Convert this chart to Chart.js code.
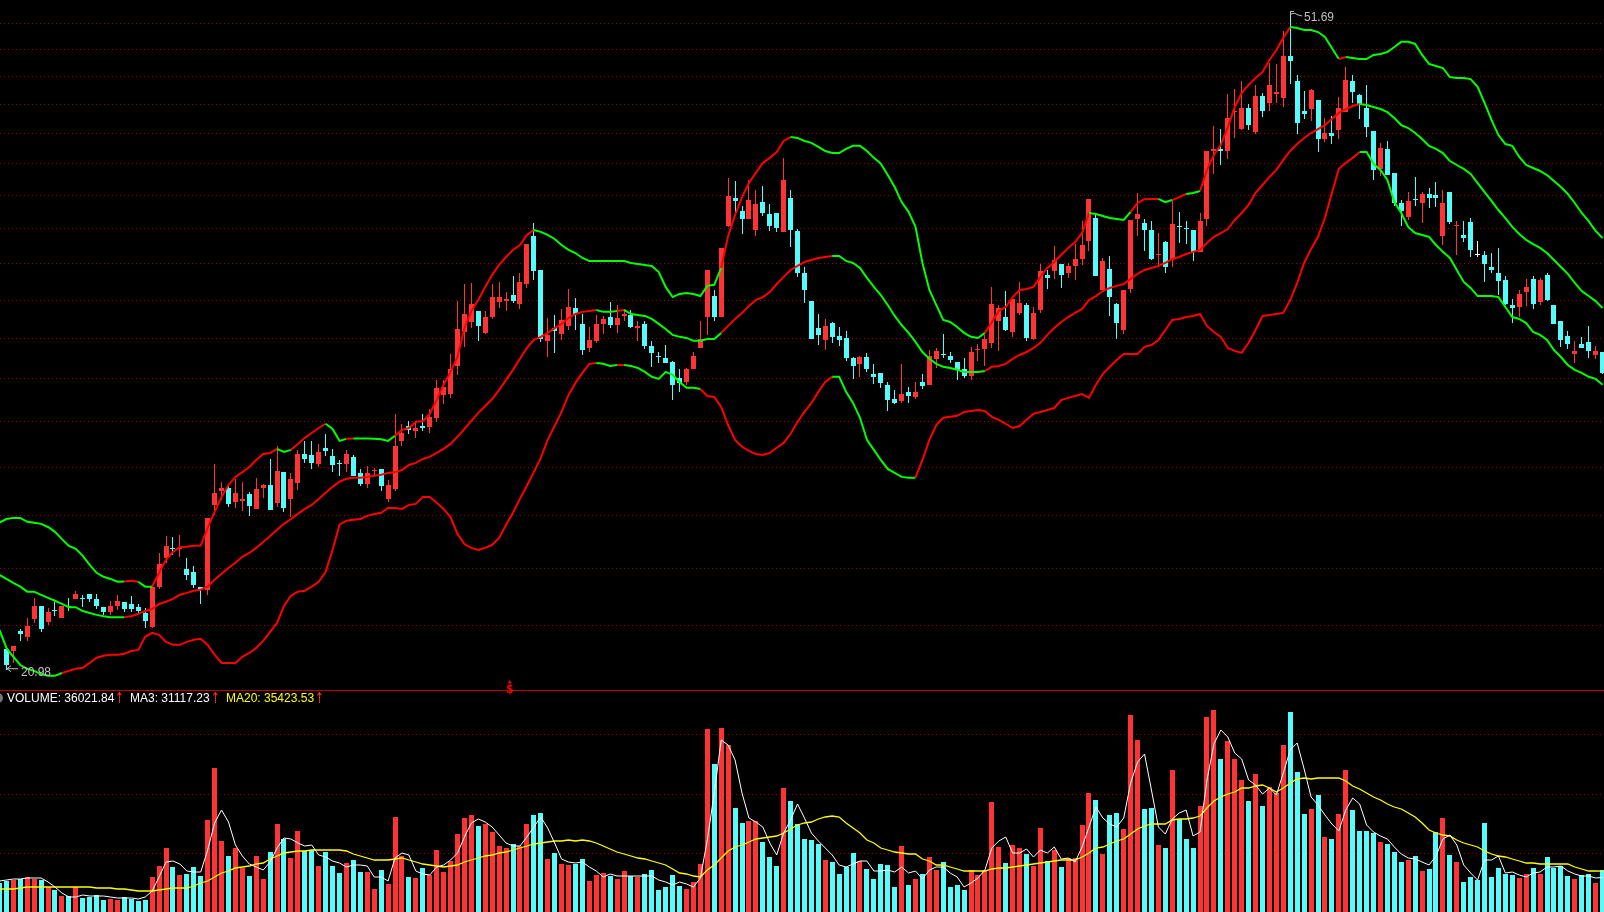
<!DOCTYPE html>
<html>
<head>
<meta charset="utf-8">
<title>VOLUME</title>
<script src="https://cdn.jsdelivr.net/npm/chart.js@4/dist/chart.umd.min.js"></script>
<style>
  html, body { margin: 0; height: 100%; background: #000; overflow: hidden; }
  canvas { position: absolute; left: -4px; }
  #divider { position: absolute; left: 0; top: 690px; width: 1604px; height: 1px; background: #c00000; }
  .lbl { position: absolute; top: 691px; font: 12px "Liberation Sans", Arial, sans-serif; line-height: 15px; white-space: pre; }
  .up { top: 690px; color: #f33; font: 15px "DejaVu Sans", sans-serif; line-height: 16px; transform: scaleX(0.7); }
  #dot { position: absolute; left: -7px; top: 693px; width: 10px; height: 10px; border-radius: 50%; background: #777; }
  #sell { position: absolute; left: 506px; top: 675px; color: #f00; font: bold 13px "DejaVu Sans Mono", monospace; line-height: 8px; text-align: center; }
</style>
</head>
<body>
<canvas id="priceChart" width="1610" height="690" style="top:0"></canvas>
<canvas id="volumeChart" width="1610" height="221" style="top:691px"></canvas>
<div id="divider"></div>
<div id="dot"></div>
<div id="sell"><span style="font-size:6px">▲</span><br>$</div>
<span class="lbl" id="lblVol" style="left:7px;color:#fff"></span>
<span class="lbl up" style="left:113px">↑</span>
<span class="lbl" id="lblMa3" style="left:130px;color:#fff"></span>
<span class="lbl up" style="left:209px">↑</span>
<span class="lbl" id="lblMa20" style="left:226px;color:#ff0"></span>
<span class="lbl up" style="left:313px">↑</span>
<script>
// ---- price ----
const opens = [null,21.60,21.54,22.14,21.96,22.50,22.91,22.41,22.78,22.53,22.91,23.13,23.16,23.29,23.13,22.87,22.72,22.91,23.04,22.97,22.87,22.69,22.26,23.52,24.46,24.80,24.77,24.10,24.00,23.52,23.42,26.30,26.81,26.92,26.41,26.45,26.70,26.16,26.92,27.03,26.38,27.51,26.52,27.11,28.20,28.16,27.82,28.44,28.12,27.86,27.82,28.09,27.48,27.07,27.55,27.63,26.52,26.89,28.71,29.30,29.10,29.30,29.26,29.63,30.57,30.61,31.81,33.32,33.78,34.29,33.28,34.01,34.72,34.76,35.05,34.62,35.58,38.00,36.27,32.92,33.50,33.23,33.60,34.43,33.69,32.60,32.92,33.69,34.01,33.64,34.06,34.10,33.50,33.69,32.69,32.25,32.16,31.98,31.30,31.12,31.68,32.60,34.01,35.00,34.01,38.52,40.02,39.32,38.89,38.31,39.80,39.16,39.21,38.21,40.02,38.26,36.12,34.76,33.50,32.96,33.73,33.14,33.05,32.16,31.90,32.20,31.47,31.51,31.00,30.40,30.32,30.70,30.49,31.12,31.00,32.12,32.33,32.25,31.98,31.68,31.38,32.51,32.56,32.83,33.83,34.01,33.32,34.20,34.57,33.00,34.34,36.03,36.22,36.57,36.12,36.47,36.82,37.74,38.94,35.29,36.32,34.62,33.41,35.34,38.89,38.68,38.31,37.02,37.68,36.77,38.52,38.42,38.31,37.18,38.89,42.68,42.80,42.68,45.01,43.98,45.26,43.80,46.01,45.58,46.14,45.89,48.60,46.97,45.08,45.20,45.76,43.39,43.74,43.92,45.01,46.97,46.08,45.26,43.86,41.65,42.80,41.42,39.75,39.00,39.96,39.75,40.24,40.18,38.00,40.35,38.52,38.05,38.73,37.00,37.02,36.42,36.12,35.78,34.57,34.48,35.19,35.83,34.72,36.03,34.57,33.83,33.14,32.33,32.78,32.87,32.29,32.42];
const closes = [null,21.13,21.69,22.05,22.29,22.91,22.20,22.72,22.75,22.91,22.87,23.29,23.13,23.13,22.91,22.72,22.91,23.07,22.81,22.81,22.75,22.44,23.52,24.27,24.87,24.77,24.80,23.90,23.58,23.42,25.84,26.74,26.92,26.34,26.74,26.52,26.27,26.89,27.03,26.12,27.55,26.19,27.26,28.20,28.01,27.86,28.28,28.32,27.78,27.82,28.20,27.37,27.07,27.48,27.59,27.00,27.03,28.52,29.02,29.14,29.22,29.22,29.67,30.87,30.91,31.68,33.46,34.15,34.62,33.60,34.01,34.95,34.95,34.86,34.76,35.68,37.58,36.22,33.00,33.19,33.37,33.87,34.48,34.15,32.51,32.96,33.69,33.92,33.64,33.96,34.15,33.55,33.60,32.69,32.38,32.20,31.94,31.00,31.08,31.68,32.25,33.00,36.27,34.01,37.38,40.13,39.86,38.89,39.91,39.69,39.21,38.52,38.42,41.02,38.31,36.12,35.29,33.00,33.19,33.60,33.10,32.96,32.16,31.81,32.20,31.68,31.34,31.08,30.36,30.24,30.61,30.53,30.70,30.95,32.25,32.47,32.29,32.07,31.64,31.38,32.42,32.56,33.00,34.62,34.43,33.41,34.86,34.67,33.05,34.20,36.22,35.88,36.77,36.03,36.47,36.82,37.53,39.96,35.98,36.72,34.95,33.73,35.29,38.84,39.16,38.31,36.82,37.07,36.42,38.63,38.47,38.36,37.18,38.78,42.68,42.80,42.68,44.65,45.08,45.26,44.22,46.01,45.08,46.72,46.27,48.60,48.27,44.35,44.89,46.40,43.39,43.74,43.56,45.26,47.03,46.27,45.51,44.10,41.59,42.86,41.30,39.75,39.32,39.86,39.91,40.24,40.02,40.02,39.75,38.73,38.57,37.89,37.28,37.00,36.57,36.27,35.73,34.62,34.43,35.10,35.44,34.62,35.78,34.81,33.69,32.96,32.78,32.47,32.60,32.47,32.47,31.51];
const highs = [null,21.60,21.69,22.20,22.53,23.16,22.91,22.84,23.04,22.91,23.16,23.39,23.26,23.29,23.29,22.87,23.07,23.26,23.04,23.22,22.97,22.84,23.58,24.63,25.21,25.18,25.25,24.46,24.20,23.52,25.84,27.82,27.15,27.03,27.26,27.15,26.78,27.30,27.07,28.01,28.52,27.51,27.48,28.36,28.71,28.71,28.59,28.99,28.40,27.97,28.36,28.16,27.63,27.74,27.67,27.63,27.22,29.79,29.39,29.51,29.47,29.79,29.99,31.21,31.21,32.33,34.76,35.58,35.63,34.29,34.29,35.58,35.68,35.19,35.98,36.13,37.58,38.68,36.27,33.96,34.10,34.39,35.34,34.91,34.15,33.55,34.10,34.06,34.72,34.57,34.39,34.34,33.83,33.83,32.92,32.42,32.73,32.03,31.68,31.72,32.42,33.83,36.27,35.29,37.38,41.13,40.96,39.59,41.02,40.46,40.68,39.69,39.21,42.28,40.46,38.36,36.42,34.76,34.15,33.92,33.78,33.55,33.37,32.20,32.25,32.38,31.90,31.51,31.12,30.78,31.90,30.91,31.12,31.47,32.51,32.60,33.23,32.42,31.98,32.16,32.65,32.78,33.19,35.44,34.57,35.24,34.86,35.68,34.67,34.48,36.57,36.27,37.48,36.57,36.62,37.58,38.78,39.96,39.10,36.87,36.97,34.67,35.29,38.84,40.30,38.89,38.78,38.15,37.74,39.91,39.27,38.78,38.31,39.21,42.68,44.16,43.98,46.13,46.46,46.97,45.51,46.72,46.20,48.14,48.08,50.29,51.69,47.35,46.33,46.46,45.76,44.65,44.77,45.95,47.87,47.35,46.14,46.72,43.86,43.16,43.27,41.42,39.91,40.35,41.19,40.35,40.57,40.91,40.46,40.35,38.78,38.78,38.94,37.74,37.23,37.12,37.38,35.98,34.86,35.29,35.83,35.98,35.88,36.13,34.57,33.83,33.37,32.92,33.10,33.60,32.69,32.42];
const lows = [null,20.98,21.19,21.84,21.84,22.38,22.11,22.32,22.59,22.53,22.75,23.13,22.87,23.04,22.81,22.63,22.63,22.78,22.72,22.72,22.69,22.23,22.23,23.45,24.30,24.56,24.50,23.74,23.48,22.97,23.26,25.95,26.48,26.23,26.19,26.09,25.91,26.16,26.55,26.12,26.23,26.05,25.87,26.85,27.86,27.63,27.70,28.12,27.51,27.37,27.51,27.37,27.00,26.92,27.41,26.81,26.41,26.81,28.52,28.99,28.83,29.10,29.02,29.47,30.19,30.45,31.42,32.65,33.50,32.92,33.23,33.92,34.43,34.29,34.67,34.39,35.39,35.78,32.87,32.20,32.38,32.96,33.41,33.41,32.29,32.42,32.83,33.23,33.50,33.28,33.83,33.50,32.92,32.56,31.77,31.94,31.94,30.36,30.70,31.00,31.68,32.60,33.19,33.83,34.01,38.47,39.21,38.10,38.89,38.00,39.05,38.26,38.21,38.21,37.43,35.93,34.67,33.00,32.73,32.51,32.83,32.69,32.03,31.25,31.34,31.55,31.04,30.87,29.91,30.19,30.24,30.24,30.40,30.82,31.00,31.72,32.16,31.94,31.21,31.30,31.21,32.03,31.81,32.60,32.47,33.37,33.10,34.10,32.92,32.96,34.20,35.34,35.83,35.39,35.88,35.78,36.52,37.23,35.98,35.24,34.06,33.00,33.23,35.14,38.00,37.23,36.77,36.52,36.13,36.42,37.63,37.58,36.72,37.18,38.52,41.36,41.87,42.22,43.45,43.92,43.92,43.68,44.71,45.08,45.58,45.33,46.78,43.68,44.59,44.47,42.62,43.21,43.09,43.39,45.01,45.58,44.59,43.50,41.02,41.25,41.30,39.59,38.52,38.84,39.59,38.68,39.48,39.53,37.53,38.63,37.02,37.68,36.92,36.92,35.68,36.13,35.05,34.57,33.73,34.01,34.53,34.39,34.57,34.76,33.69,32.65,32.56,31.94,32.60,32.16,32.12,31.47];
const upper = [25.67,25.80,25.84,25.84,25.70,25.67,25.63,25.52,25.35,25.10,24.87,24.77,24.53,24.23,23.97,23.84,23.77,23.68,23.69,23.71,23.68,23.52,23.52,23.97,24.40,24.66,24.83,24.84,24.87,24.88,25.49,26.05,26.59,27.03,27.33,27.51,27.70,27.97,28.20,28.24,28.40,28.28,28.36,28.59,28.83,29.02,29.22,29.39,29.18,28.71,28.79,28.80,28.80,28.80,28.79,28.77,28.71,28.91,29.14,29.22,29.47,29.49,29.79,30.36,31.00,31.55,32.20,33.50,34.29,34.81,35.44,36.03,36.52,36.92,37.28,37.53,38.05,38.31,38.21,38.05,37.84,37.53,37.28,37.12,36.87,36.72,36.72,36.72,36.72,36.72,36.72,36.62,36.57,36.52,36.47,36.17,35.44,34.95,35.10,35.14,35.10,35.00,35.49,35.54,36.37,38.00,39.10,40.07,40.85,41.42,41.99,42.28,42.62,43.27,43.50,43.45,43.27,43.16,42.92,42.68,42.56,42.56,42.80,42.98,42.98,42.68,42.28,41.94,41.30,40.63,39.80,39.27,38.47,36.62,35.29,34.57,33.87,33.78,33.55,33.28,33.10,33.05,33.28,33.78,34.29,34.48,34.95,35.29,35.34,35.44,35.93,36.37,36.67,37.02,37.38,37.68,38.15,39.21,39.16,39.05,38.94,38.89,38.84,39.27,39.75,39.96,39.97,39.97,39.80,39.91,40.07,40.24,40.30,40.41,41.59,42.45,43.04,44.10,45.33,46.20,46.72,47.16,47.55,48.34,49.00,49.82,50.57,50.50,50.36,50.36,50.22,49.89,49.14,48.40,48.54,48.47,48.40,48.40,48.67,48.74,48.87,49.20,49.55,49.55,49.41,48.67,48.08,47.94,47.81,47.22,47.16,47.16,47.09,46.59,45.58,44.53,43.62,43.09,42.98,42.33,41.87,41.70,41.53,41.30,40.96,40.63,40.24,39.75,39.21,38.78,38.26,37.89];
const middle = [23.90,23.77,23.64,23.52,23.36,23.36,23.26,23.16,23.07,22.97,22.87,22.87,22.75,22.69,22.63,22.59,22.56,22.56,22.56,22.59,22.66,22.75,22.81,22.97,23.04,23.13,23.26,23.32,23.39,23.42,23.52,23.74,23.94,24.13,24.30,24.50,24.63,24.80,25.00,25.21,25.42,25.63,25.80,25.98,26.16,26.30,26.52,26.74,26.96,27.15,27.26,27.30,27.30,27.33,27.37,27.41,27.48,27.51,27.59,27.78,27.86,28.01,28.09,28.24,28.40,28.59,28.87,29.18,29.51,29.83,30.11,30.40,30.78,31.21,31.64,32.12,32.60,32.96,33.10,33.28,33.50,33.69,33.96,34.15,34.25,34.29,34.34,34.25,34.25,34.29,34.34,34.15,34.10,34.06,33.92,33.69,33.46,33.19,33.10,33.05,32.92,32.92,33.00,33.00,33.28,33.60,33.92,34.20,34.53,34.81,34.95,35.19,35.58,35.93,36.27,36.47,36.67,36.77,36.87,36.92,36.97,36.97,36.72,36.62,36.37,35.88,35.44,35.05,34.57,34.06,33.64,33.28,32.87,32.42,32.12,31.90,31.77,31.72,31.64,31.55,31.55,31.55,31.59,31.77,31.81,31.90,32.12,32.29,32.42,32.60,32.83,33.19,33.50,33.78,34.01,34.20,34.39,34.81,35.00,35.24,35.39,35.49,35.58,35.83,36.08,36.27,36.37,36.47,36.62,36.82,36.92,37.07,37.18,37.28,37.63,37.95,38.15,38.36,38.84,39.21,39.64,40.30,40.74,41.19,41.59,42.16,42.68,43.09,43.45,43.74,43.98,44.22,44.59,44.96,45.20,45.39,45.51,45.45,45.33,45.20,45.01,44.65,44.22,44.04,43.74,43.39,42.98,42.80,42.56,42.10,41.87,41.65,41.36,40.85,40.35,39.86,39.37,38.94,38.47,38.10,37.79,37.58,37.38,37.12,36.77,36.42,36.08,35.63,35.24,35.00,34.76,34.43];
const lower = [22.17,21.63,21.37,21.13,21.02,20.96,20.87,20.82,20.82,20.90,20.96,21.02,21.05,21.19,21.34,21.40,21.43,21.43,21.46,21.54,21.57,21.96,22.08,22.02,21.81,21.72,21.72,21.81,21.87,21.90,21.72,21.43,21.19,21.19,21.19,21.37,21.48,21.63,21.84,22.11,22.38,22.91,23.23,23.36,23.39,23.52,23.68,24.00,24.73,25.60,25.74,25.77,25.80,25.91,25.98,26.02,26.19,26.19,26.16,26.30,26.34,26.59,26.59,26.38,26.16,25.87,25.28,24.93,24.80,24.73,24.80,24.90,25.14,25.60,26.02,26.52,27.00,27.51,28.05,28.75,29.30,29.87,30.57,31.08,31.51,31.90,31.94,31.90,31.81,31.85,31.85,31.81,31.72,31.55,31.34,31.25,31.55,31.42,31.12,30.87,30.87,30.82,30.53,30.49,30.07,29.34,28.75,28.48,28.32,28.20,28.16,28.24,28.44,28.63,28.99,29.47,29.87,30.24,30.70,31.12,31.34,31.34,30.70,30.24,29.63,28.75,28.36,27.97,27.63,27.48,27.33,27.30,27.30,27.97,28.75,29.34,29.63,29.67,29.71,29.87,29.91,29.95,29.91,29.67,29.55,29.39,29.22,29.30,29.55,29.79,29.87,29.95,30.03,30.36,30.45,30.53,30.61,30.45,31.00,31.47,31.77,32.07,32.33,32.33,32.33,32.65,32.73,32.96,33.41,33.87,33.92,34.01,34.06,34.15,33.60,33.32,33.10,32.60,32.47,32.38,32.83,33.41,34.06,34.10,34.15,34.20,34.81,35.63,36.62,37.33,37.95,38.94,40.30,41.65,41.99,42.28,42.62,42.62,41.94,41.59,41.02,39.80,39.21,38.47,38.15,38.05,37.95,37.53,37.18,36.87,36.27,35.68,35.39,35.00,35.00,35.00,34.95,34.48,34.01,33.92,33.73,33.32,33.19,32.96,32.51,32.20,31.85,31.64,31.51,31.34,31.25,31.00];
const gridPrices = [50.83,49.05,47.27,45.49,43.71,41.93,40.15,38.37,36.59,34.81,33.03,31.25,29.47,27.69,25.91,24.10,22.31];

// ---- volume ----
const volume = [27430,28770,29440,30110,31450,30110,29440,24750,22740,18720,18720,24750,17380,18050,19390,16040,16710,16040,18050,16710,15370,16040,31450,38820,50880,38150,32790,33460,38150,32120,69640,104480,55570,45520,50880,37480,32120,45520,30110,48200,66960,56910,44180,62270,48870,49540,38820,48200,38820,34130,40830,42840,34800,34800,23410,36140,26760,71650,45520,31450,30780,37480,32790,49540,34800,42170,60260,70980,72990,65620,66960,61600,52220,50880,53560,52220,66960,72990,74330,43510,47530,40160,39490,40160,43510,28770,32790,34130,32120,30110,35470,32120,31450,33460,36140,22740,24750,32790,25420,23410,28100,40160,130610,107160,131280,119890,77680,67630,68970,68970,54900,44850,38820,91080,82370,66960,56910,56240,53560,42840,41500,33460,38150,47530,42170,36810,30110,40160,39490,24750,52220,26090,30110,33460,44850,36140,41500,24750,26090,22740,36140,32790,36140,81700,51550,40830,52890,50880,46860,38820,64280,42170,49540,38150,44180,44180,66290,87730,83040,46860,72990,74330,63610,139990,123240,77010,77680,52890,50880,103140,70310,56910,50880,79020,138650,143340,110510,122570,110510,96440,82370,100460,79020,91750,87730,119890,142000,101800,73660,77010,86390,58250,56910,73660,103140,76340,62270,62270,60930,54900,53560,48200,41500,42840,45520,35470,36810,61600,70980,46190,41500,28100,31450,29440,67630,31450,37480,33460,32790,30780,33460,37480,33460,44850,37480,38820,32120,30110,32790,33460,27430,36021.84];
const ma3 = [28770,29440,30110,30110,30780,30780,30780,28100,24750,20730,18050,18050,19390,18720,18720,18720,18050,17380,17380,17380,16710,18050,22070,31450,41500,42170,40160,35470,34800,34800,49540,67630,76340,68300,52890,45520,40160,38150,36140,41500,50880,57580,56910,54230,52220,52890,46190,44850,42170,40830,38150,39490,39490,38820,31450,31450,28770,44180,47530,46190,35470,33460,32790,38150,39490,42840,47530,58250,67630,70310,68300,64950,59590,54230,52220,52220,58250,64950,71650,64280,54230,43510,41500,40830,41500,38150,35470,31450,33460,32120,32120,32120,32120,32120,32120,29440,28100,26090,28100,26760,24750,30780,56240,87730,123240,119890,109840,87730,70980,68300,64950,54230,46190,60930,69640,80360,70980,60930,55570,50880,46190,39490,38150,40160,42170,42170,35470,35470,36140,34800,38150,34130,35470,30110,36140,38150,38150,34130,31450,24750,27430,30780,36140,50880,55570,58250,47530,47530,50210,44850,49540,47530,51550,43510,44180,41500,51550,64950,78350,70980,66960,64950,70980,94430,108500,113860,89740,64950,60260,70310,74330,76340,58920,61600,96440,120560,129940,125250,114530,110510,96440,93090,87060,91080,86390,101130,116540,121230,103810,85050,79690,72990,66960,62270,76340,84380,80360,66290,61600,58920,56910,51550,46860,44180,43510,41500,39490,45520,56910,59590,52890,39490,34130,29440,42840,42840,45520,34130,34800,32790,31450,34130,34800,38150,38150,38820,35470,33460,32120,32120,30780,31117.23];
const ma20 = [23410,23410,23410,24080,24750,24750,24750,24750,24750,24750,24750,24750,24750,24750,24080,24080,24080,23410,23410,22740,22070,22070,22070,22740,23410,24080,24080,24080,25420,27430,28770,31450,34130,35470,37480,38150,38820,40160,40830,43510,45520,47530,48200,48870,48870,49540,49540,49540,49540,49540,48870,46860,45520,44180,42840,42840,42840,43510,44180,42840,41500,40160,39490,38820,38150,38820,39490,41500,42840,44180,45520,46190,47530,48200,49540,50880,52220,53560,54230,54900,55570,55570,56240,55570,56240,55570,54230,52220,50210,48200,46860,45520,44180,43510,42170,40830,39490,36810,34130,33460,32120,31450,36140,39490,44180,48870,51550,52890,54900,56910,57580,58250,58920,60930,63610,66290,67630,68300,70310,71650,72320,71650,67630,64280,60930,56240,54230,50880,49540,48200,47530,46860,46860,43510,42170,39490,39490,38150,36810,35470,35470,35470,35470,36810,37480,37480,38150,38820,39490,40160,40830,41500,42170,42840,42840,42840,44850,47530,50880,51550,53560,55570,56910,60260,63610,65620,66960,66960,66960,69640,70310,70310,70980,72320,77680,82370,85050,87060,88400,91080,91080,92420,93090,91080,88400,91080,94430,97110,97780,97110,97780,97780,97780,97780,95770,92420,90410,87730,85050,83040,80360,78350,77010,74330,71650,67630,62940,60930,59590,58920,56240,54230,52890,51550,48870,46860,45520,44850,43510,42170,40830,40830,40160,40160,40160,40160,40160,38150,36810,35470,35470,35423.53];
const volumeGrid = [47300,87000,127000];

const slots = opens.map((_, i) => i);

// tramos verdes de cada banda (indice inicial, indice final), el resto va en rojo
const upperGreen = [[0,18],[20,22],[40,42],[47,50],[51,57],[77,104],[114,142],[157,163],[167,169],[171,173],[186,193],[194,231]];
const middleGreen = [[0,18],[86,89],[90,104],[120,142],[196,231]];
const lowerGreen = [[0,9],[86,89],[90,101],[120,132],[196,231]];

const RED = "#ff3333", CYAN = "#54fcfc", LINE_RED = "#ff0000", LINE_GREEN = "#00ff00";
const GRID = "#a00000", TEXT_GREY = "#c0c0c0";

function candleColor(i) {
    if (closes[i] > opens[i]) return RED;
    if (closes[i] < opens[i]) return CYAN;
    return "#ffffff";
}
function volumeColor(i) {
    return closes[i] > opens[i] ? RED : CYAN;
}
function bandLine(values, ranges) {
    return {
        type: "line",
        data: values,
        order: 0,
        borderWidth: 2,
        pointRadius: 0,
        tension: 0,
        borderColor: LINE_RED,
        segment: {
            borderColor: ctx => ranges.some(r => ctx.p0DataIndex >= r[0] && ctx.p0DataIndex < r[1]) ? LINE_GREEN : LINE_RED
        }
    };
}
function thinLine(values, color, width) {
    return { type: "line", data: values, order: 0, borderWidth: width, pointRadius: 0, tension: 0, borderColor: color };
}
function pair(a, b) {
    return a.map((v, i) => v === null ? null : [v, b[i]]);
}

// las barras quedan en pixeles enteros, como en el original
const snapBars = {
    id: "snapBars",
    afterDatasetsUpdate(chart) {
        chart.data.datasets.forEach((d, k) => {
            const meta = chart.getDatasetMeta(k);
            if (meta.type !== "bar") return;
            meta.data.forEach(b => {
                b.x = Math.floor(b.x) + 0.5;
                const top = Math.round(b.y);
                let base = Math.round(b.base);
                if (base === top) base = top + 1;
                b.y = top;
                b.base = base;
            });
        });
    }
};

// rotulos de maximo y minimo
const extremes = {
    id: "extremes",
    afterDraw(chart) {
        const c = chart.ctx, xs = chart.scales.x, ys = chart.scales.y;
        const hi = Math.max(...highs.filter(v => v !== null));
        const lo = Math.min(...lows.filter(v => v !== null));
        const hx = Math.floor(xs.getPixelForValue(highs.indexOf(hi))), hy = ys.getPixelForValue(hi);
        const lx = Math.floor(xs.getPixelForValue(lows.indexOf(lo))), ly = ys.getPixelForValue(lo);
        c.save();
        c.font = '12px "Liberation Sans", Arial, sans-serif';
        c.fillStyle = TEXT_GREY;
        c.strokeStyle = TEXT_GREY;
        c.textBaseline = "middle";
        c.lineWidth = 1;
        c.beginPath();
        c.moveTo(hx + 0.5, hy + 5);
        c.lineTo(hx + 0.5, hy + 0.5);
        c.lineTo(hx + 4, hy + 0.5);
        c.moveTo(hx + 1, hy + 3);
        c.quadraticCurveTo(hx + 5, hy + 1, hx + 8, hy + 4);
        c.lineTo(hx + 12, hy + 5);
        c.stroke();
        c.fillText(hi.toFixed(2), hx + 14, hy + 7);
        c.beginPath();
        c.moveTo(lx + 1, ly - 1.5);
        c.lineTo(lx + 12, ly - 1.5);
        c.moveTo(lx + 1, ly - 1.5);
        c.lineTo(lx + 5, ly - 4.5);
        c.moveTo(lx + 1, ly - 1.5);
        c.lineTo(lx + 5, ly + 1.5);
        c.stroke();
        c.fillText(lo.toFixed(2), lx + 15, ly + 2);
        c.restore();
    }
};

const baseOptions = {
    responsive: false,
    devicePixelRatio: 1,
    animation: false,
    events: [],
    layout: { padding: 0 },
    plugins: { legend: { display: false }, tooltip: { enabled: false } }
};

new Chart(document.getElementById("priceChart"), {
    type: "bar",
    data: {
        labels: slots,
        datasets: [
            bandLine(upper, upperGreen),
            bandLine(middle, middleGreen),
            bandLine(lower, lowerGreen),
            {
                data: pair(opens, closes),
                order: 1,
                grouped: false,
                barThickness: 5,
                minBarLength: 1,
                inflateAmount: 0,
                borderWidth: 0,
                backgroundColor: ctx => candleColor(ctx.dataIndex)
            },
            {
                data: pair(lows, highs),
                order: 2,
                grouped: false,
                barThickness: 1,
                inflateAmount: 0,
                borderWidth: 0,
                backgroundColor: ctx => candleColor(ctx.dataIndex)
            }
        ]
    },
    options: {
        ...baseOptions,
        scales: {
            x: { display: false, offset: true },
            y: {
                type: "logarithmic",
                min: 20.42,
                max: 52.47,
                afterBuildTicks: s => { s.ticks = gridPrices.map(v => ({ value: v })); },
                ticks: { display: false },
                border: { display: false, dash: [1, 3] },
                grid: { color: GRID, drawTicks: false, tickLength: 0 }
            }
        }
    },
    plugins: [snapBars, extremes]
});

new Chart(document.getElementById("volumeChart"), {
    type: "bar",
    data: {
        labels: slots,
        datasets: [
            thinLine(ma3, "#ffffff", 1),
            thinLine(ma20, "#ffff00", 1.3),
            {
                data: volume,
                order: 1,
                barThickness: 5,
                inflateAmount: 0,
                borderWidth: 0,
                backgroundColor: ctx => volumeColor(ctx.dataIndex)
            }
        ]
    },
    options: {
        ...baseOptions,
        scales: {
            x: { display: false, offset: true },
            y: {
                min: 8000,
                max: 156070,
                afterBuildTicks: s => { s.ticks = volumeGrid.map(v => ({ value: v })); },
                ticks: { display: false },
                border: { display: false, dash: [1, 3] },
                grid: { color: GRID, drawTicks: false, tickLength: 0 }
            }
        }
    },
    plugins: [snapBars]
});

const last = volume.length - 1;
document.getElementById("lblVol").textContent = "VOLUME: " + volume[last].toFixed(2);
document.getElementById("lblMa3").textContent = "MA3: " + ma3[last].toFixed(2);
document.getElementById("lblMa20").textContent = "MA20: " + ma20[last].toFixed(2);
</script>
</body>
</html>
